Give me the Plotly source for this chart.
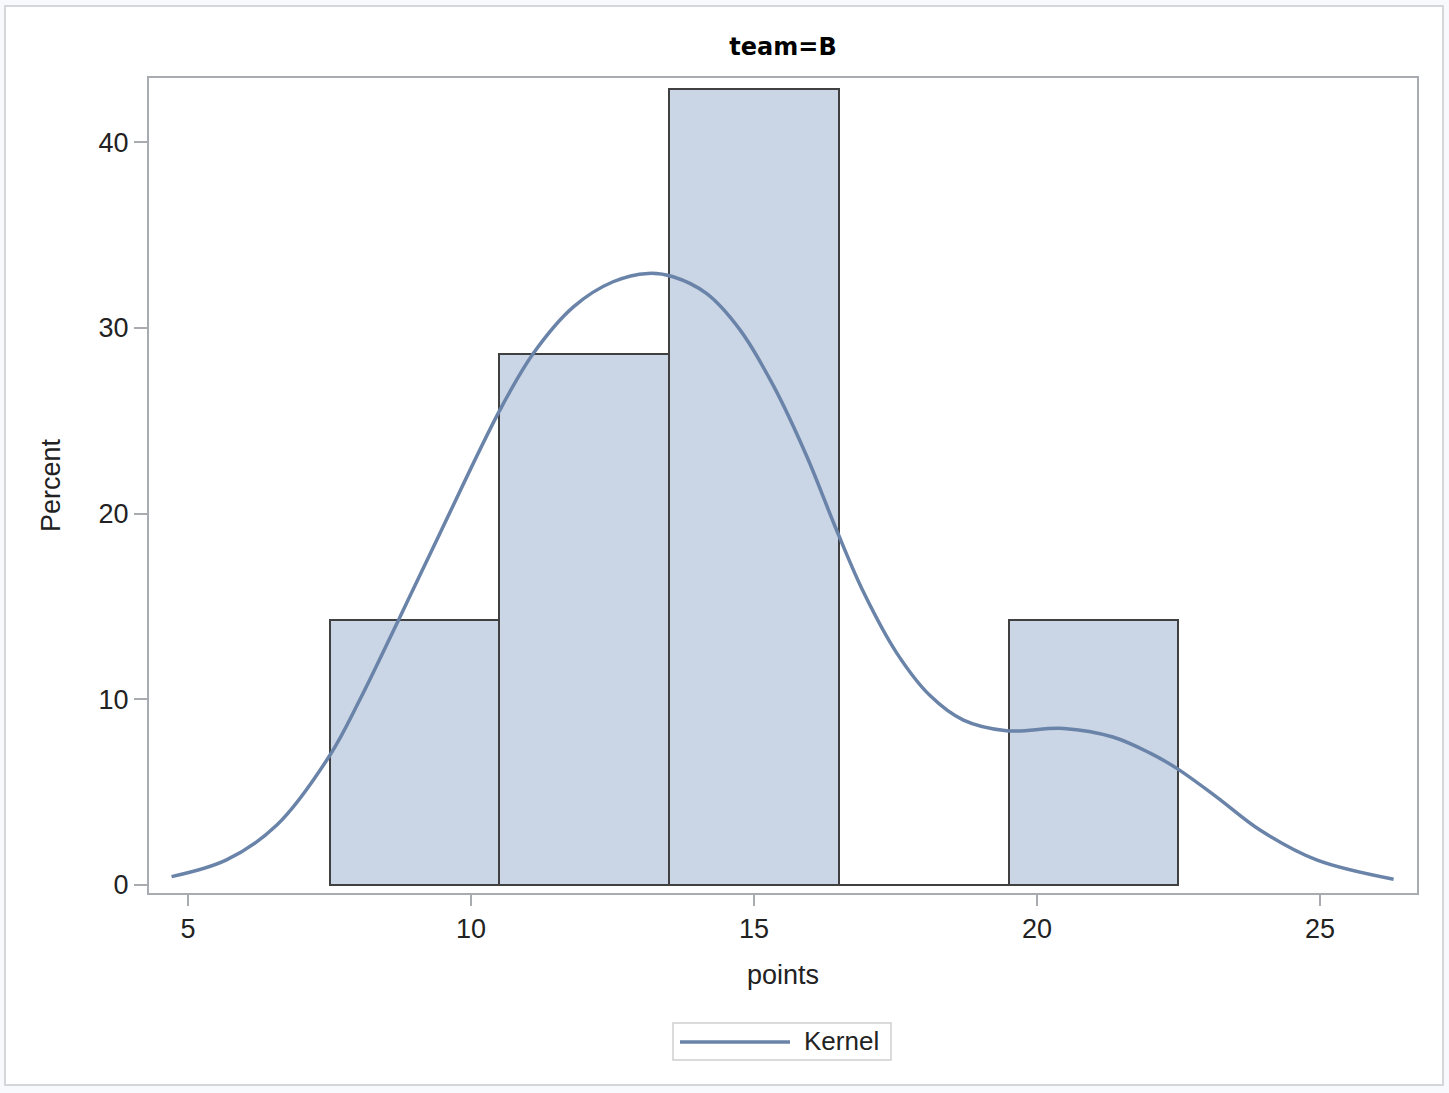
import plotly.graph_objects as go

# Histogram bins (points) and percents
bin_centers = [9, 12, 15, 18, 21]
bin_width = 3
percents = [14.29, 28.57, 42.86, 0.0, 14.29]

# Kernel density curve
kernel_x = [4.71, 5.68, 6.57, 7.51, 8.04, 8.72, 9.45, 10.51, 11.10, 11.81,
            12.51, 13.13, 13.57, 14.16, 14.75, 15.34, 15.93, 16.46, 16.93, 17.52,
            18.11, 18.70, 19.46, 20.47, 21.34, 22.00, 22.47, 23.17, 23.94, 24.94, 26.30]
kernel_y = [0.45, 1.35, 3.23, 7.0, 10.0, 14.27, 18.93, 25.57, 28.62, 31.13,
            32.48, 32.93, 32.75, 31.85, 29.9, 26.9, 23.1, 19.1, 15.8, 12.5,
            10.2, 8.88, 8.31, 8.43, 7.97, 7.1, 6.28, 4.75, 2.96, 1.35, 0.31]

x_ticks = [5, 10, 15, 20, 25]
y_ticks = [0, 10, 20, 30, 40]

FONT = "Liberation Sans, Arial, sans-serif"
GRID = "#a8acb0"

fig = go.Figure()
fig.add_trace(go.Bar(
    x=bin_centers, y=percents, width=[bin_width] * len(bin_centers),
    marker=dict(color="#cad5e5", line=dict(color="#404040", width=2)),
    showlegend=False, hoverinfo="x+y",
))
fig.add_trace(go.Scatter(
    x=kernel_x, y=kernel_y, mode="lines", name="Kernel",
    line=dict(color="#6a83a8", width=3.5, shape="spline", smoothing=1.0),
    showlegend=False,
))

W, H = 1449, 1093
L, R, T, B = 149, 1417, 78, 893
pw, ph = R - L, B - T


def px(p):
    return (p - L) / pw


def py(q):
    return (B - q) / ph


shapes = [
    # outer frame
    dict(type="rect", xref="paper", yref="paper", x0=px(5), x1=px(1443), y0=py(1085), y1=py(6),
         line=dict(color="#d4d6da", width=2), fillcolor="white", layer="below"),
    # legend box
    dict(type="rect", xref="paper", yref="paper", x0=px(673), x1=px(891), y0=py(1060), y1=py(1023),
         line=dict(color="#d0d0d0", width=1.5), fillcolor="white"),
    dict(type="line", xref="paper", yref="paper", x0=px(680), x1=px(790), y0=py(1042), y1=py(1042),
         line=dict(color="#6a83a8", width=3.5)),
]

annotations = [
    dict(text="Kernel", xref="paper", yref="paper", x=px(802), y=py(1041), xanchor="left",
         yanchor="middle", showarrow=False, font=dict(family=FONT, size=26, color="#222")),
]

fig.update_layout(
    width=W, height=H,
    margin=dict(l=L, r=W - R, t=T, b=H - B),
    paper_bgcolor="#f8f9fd", plot_bgcolor="white",
    bargap=0,
    title=dict(text="<b>team=B</b>", x=px(783), xref="paper", xanchor="center",
               y=1 - 47 / H, yanchor="middle",
               font=dict(family="DejaVu Sans, sans-serif", size=24, color="black")),
    font=dict(family=FONT, size=27, color="#222"),
    shapes=shapes, annotations=annotations,
    showlegend=False,
)
fig.update_xaxes(
    range=[4.311, 26.714], tickvals=x_ticks, ticks="outside", ticklen=11, tickwidth=1.5,
    tickcolor=GRID, showgrid=False, zeroline=False, showline=True, linecolor=GRID, linewidth=2,
    mirror=True, tickfont=dict(size=27, color="#222"),
    title=dict(text="points", standoff=22, font=dict(size=27, color="#222")),
)
fig.update_yaxes(
    range=[-0.43, 43.45], tickvals=y_ticks, ticks="outside", ticklen=13, tickwidth=1.5,
    tickcolor=GRID, showgrid=False, zeroline=False, showline=True, linecolor=GRID, linewidth=2,
    mirror=True, tickfont=dict(size=27, color="#222"),
    title=dict(text="Percent", standoff=30, font=dict(size=27, color="#222")),
)

fig.write_html("out.html")
